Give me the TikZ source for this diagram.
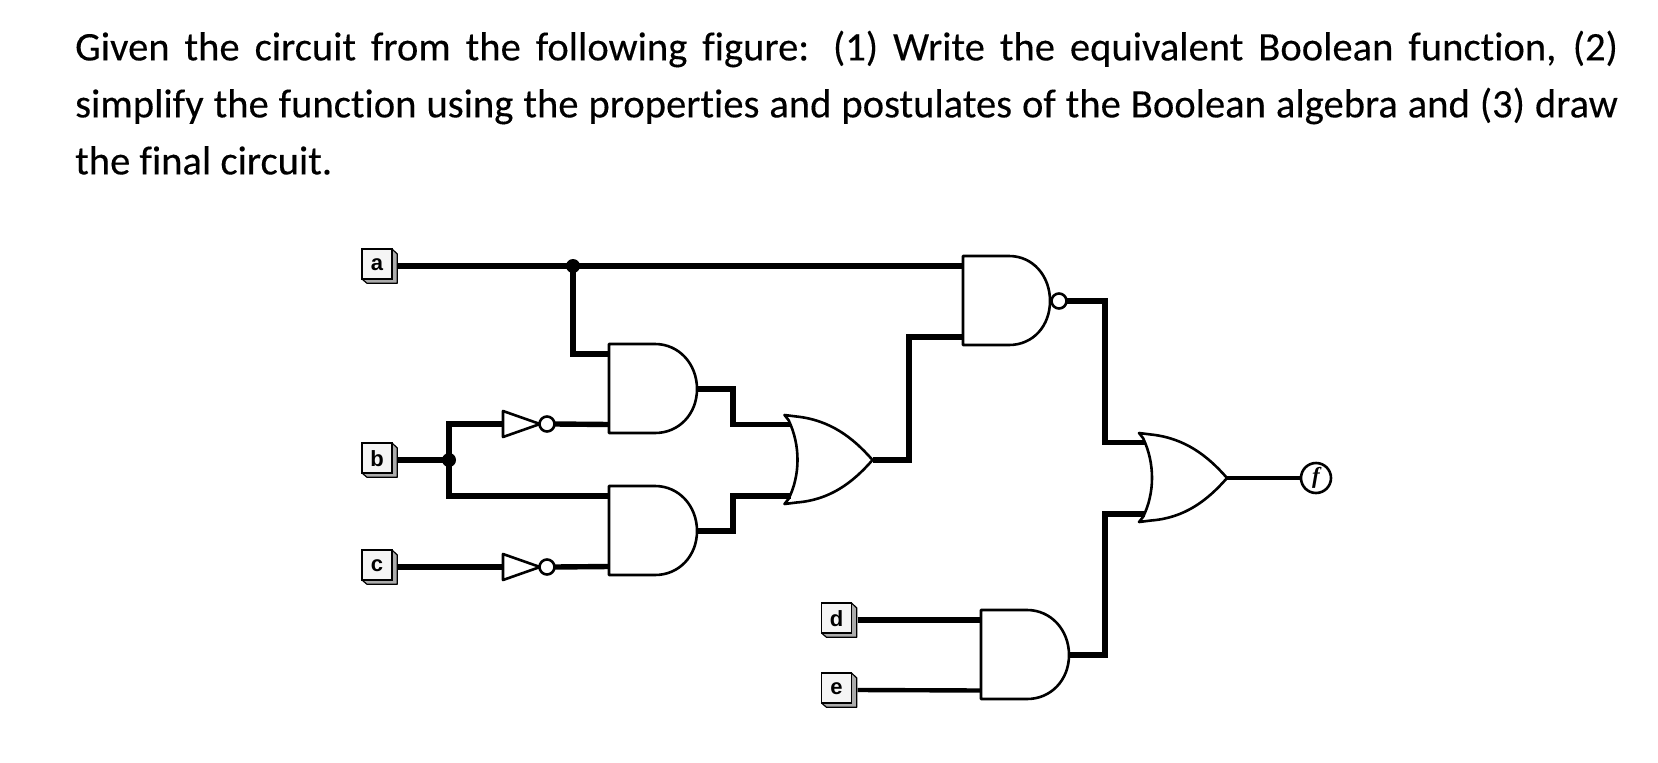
\documentclass[tikz,border=0pt]{standalone}
\usepackage{fontspec}
\setmainfont[Ligatures=CommonOff,FakeBold=0.25]{Carlito}
\newfontfamily\boxfont{Liberation Sans}
\newfontfamily\outfont{Liberation Serif}
\usetikzlibrary{calc}
\tikzset{
  wire/.style={line width=5.4pt,black},
  thinwire/.style={line width=4.4pt,black},
  gate/.style={line width=2.6pt,black,fill=white,line join=round},
  dot/.style={circle,fill=black,inner sep=0pt,minimum size=14pt},
  inbox/.style={inner sep=0pt,minimum width=37pt,minimum height=36pt,font=\boxfont\bfseries\fontsize{22}{22}\selectfont,
    path picture={
      \coordinate (nw) at (path picture bounding box.north west);
      \fill[gray!65,draw=black,line width=1.2pt,line join=round] ($(nw)+(31,1)$) -- ($(nw)+(36.3,6)$) -- ($(nw)+(36.3,35.3)$) -- ($(nw)+(6,35.3)$) -- ($(nw)+(1,31)$) -- cycle;
      \draw[black,line width=1.8pt,fill=white!96!black] ($(nw)+(1,1)$) rectangle ($(nw)+(31,31)$);
    }},
  outbox/.style={circle,draw=black,line width=2.6pt,inner sep=0pt,minimum size=30pt,font=\outfont\itshape\bfseries\fontsize{23}{23}\selectfont},
  andgate/.pic={
    \draw[gate] (0,0) -- (46,0) .. controls (70,0) and (88,20) .. (88,45)
      .. controls (88,70) and (70,89) .. (46,89) -- (0,89) -- cycle;
    \coordinate (-in1) at (0,10);
    \coordinate (-in2) at (0,80.5);
    \coordinate (-out) at (88,45);
  },
  nandgate/.pic={
    \draw[gate] (0,0) -- (46,0) .. controls (70,0) and (87,20) .. (87,45)
      .. controls (87,70) and (70,89) .. (46,89) -- (0,89) -- cycle;
    \draw[gate] (96,45) circle[radius=7.5pt];
    \coordinate (-in1) at (0,10);
    \coordinate (-in2) at (0,81);
    \coordinate (-out) at (104,45);
  },
  orgate/.pic={
    \draw[gate] (0,0) -- (12,1.5) .. controls (45,5) and (68,22) .. (88,45)
      .. controls (68,68) and (45,85) .. (12,87.5) -- (0,89) -- (4,84)
      .. controls (16,60) and (16,30) .. (4,5) -- cycle;
    \coordinate (-in1) at (6,9.5);
    \coordinate (-in2) at (6,81);
    \coordinate (-out) at (88,45);
  },
  invgate/.pic={
    \draw[gate] (0,-13) -- (37,0) -- (0,13) -- cycle;
    \draw[gate] (44,0) circle[radius=7.5pt];
    \coordinate (-in) at (0,0);
    \coordinate (-out) at (52,0);
  }
}
\begin{document}
\begin{tikzpicture}[x=1pt,y=-1pt]
\useasboundingbox (0,0) rectangle (1658,763);
\fill[white] (0,0) rectangle (1658,763);
\node[anchor=north west,inner sep=0pt,text width=1543pt,align=justify,font=\fontsize{40.6}{57}\selectfont] (question) at (75,30.5)
  {Given the circuit from the following figure: (1) Write the equivalent Boolean function, (2)\linebreak
   simplify the function using the properties and postulates of the Boolean algebra and (3) draw\linebreak
   the final circuit.};

\node[inbox] (a) at (379.5,266) {\hspace*{-5pt}\raisebox{2pt}{a}};
\node[inbox] (b) at (379.5,460) {\hspace*{-5pt}\raisebox{2pt}{b}};
\node[inbox] (c) at (379.5,567) {\hspace*{-5pt}\raisebox{2pt}{c}};
\node[inbox] (d) at (839,620) {\hspace*{-5pt}\raisebox{2pt}{d}};
\node[inbox] (e) at (839,690) {\hspace*{-5pt}\raisebox{2pt}{e}};
\node[outbox] (f) at (1316,478) {f};

\coordinate (ja) at (573,266);
\coordinate (jb) at (449,460);
\coordinate (m1) at (733,460);
\coordinate (m2) at (909,400);
\coordinate (m3) at (1105,480);

\pic (and1) at (609,344) {andgate};
\pic (and2) at (609,486) {andgate};
\pic (and3) at (981,610) {andgate};
\pic (nand) at (963,256) {nandgate};
\pic (or1) at (784.5,415) {orgate};
\pic (or2) at (1139,433) {orgate};
\pic (inv1) at (503,424) {invgate};
\pic (inv2) at (503,567) {invgate};

\draw[wire] (a.east) -- (nand-in1);
\draw[wire] (ja) |- (and1-in1);
\draw[wire] (b.east) -- (jb);
\draw[wire] (jb) |- (inv1-in);
\draw[wire] (inv1-out) -- (and1-in2);
\draw[wire] (jb) |- (and2-in1);
\draw[wire] (c.east) -- (inv2-in);
\draw[wire] (inv2-out) -- (and2-in2);
\draw[wire] (and1-out) -- (and1-out -| m1) -- (or1-in1 -| m1) -- (or1-in1);
\draw[wire] (and2-out) -- (and2-out -| m1) -- (or1-in2 -| m1) -- (or1-in2);
\draw[wire] (or1-out) -- (or1-out -| m2) -- (nand-in2 -| m2) -- (nand-in2);
\draw[wire] (nand-out) -- (nand-out -| m3) -- (or2-in1 -| m3) -- (or2-in1);
\draw[wire] (and3-out) -- (and3-out -| m3) -- (or2-in2 -| m3) -- (or2-in2);
\draw[wire] (d.east) -- (and3-in1);
\draw[thinwire] (e.east) -- (and3-in2);
\draw[thinwire] (or2-out) -- (f.west);

\node[dot] (dota) at (ja) {};
\node[dot] (dotb) at (jb) {};
\end{tikzpicture}
\end{document}
